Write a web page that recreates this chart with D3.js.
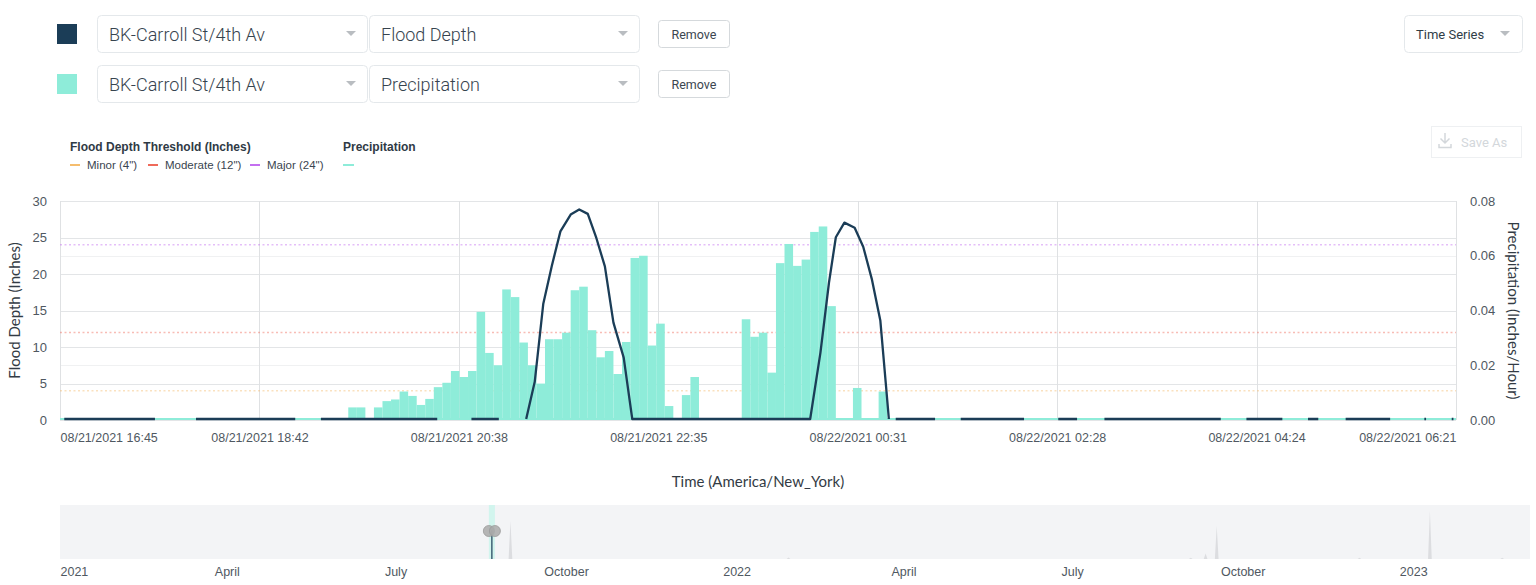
<!DOCTYPE html>
<html>
<head>
<meta charset="utf-8">
<script src="https://cdn.jsdelivr.net/npm/d3@7"></script>
<style>
  body { margin: 0; background: #fff; overflow: hidden; }
  svg { display: block; font-family: Lato, "Open Sans", sans-serif; }
</style>
</head>
<body>
<svg id="chart" width="1536" height="585"></svg>
<script>
// ---- data ----
const sensorName = 'BK-Carroll St/4th Av';
const seriesMetrics = ['Flood Depth', 'Precipitation'];
const seriesColors = ['#1b3d57', '#8eecd9'];

const thresholdLabels = ['Minor (4")', 'Moderate (12")', 'Major (24")'];
const thresholdValues = [4, 12, 24];
const thresholdColors = ['#f5bd6e', '#ef6a5a', '#c46ff0'];

// visible window (America/New_York)
const windowStart = '2021-08-21 16:45:30';
const windowEnd = '2021-08-22 06:21:30';

// flood depth readings, inches (null = no reading / gap in line)
const depthTimes = [
  '08-21 16:48', '08-21 17:41', null,
  '08-21 18:05', '08-21 19:03', null,
  '08-21 19:18', '08-21 20:26', null,
  '08-21 20:46', '08-21 21:02', null,
  '08-21 21:18', '08-21 21:23', '08-21 21:28', '08-21 21:33', '08-21 21:38', '08-21 21:44',
  '08-21 21:49', '08-21 21:54', '08-21 21:59', '08-21 22:04', '08-21 22:09', '08-21 22:15', '08-21 22:20',
  '08-22 00:04', '08-22 00:10', '08-22 00:15', '08-22 00:19', '08-22 00:24', '08-22 00:30',
  '08-22 00:35', '08-22 00:40', '08-22 00:45', '08-22 00:50', null,
  '08-22 00:54', '08-22 01:17', null,
  '08-22 01:32', '08-22 02:09', null,
  '08-22 02:29', '08-22 02:40', null,
  '08-22 02:56', '08-22 04:04', null,
  '08-22 04:19', '08-22 04:40', null,
  '08-22 04:55', '08-22 05:01', null,
  '08-22 05:17', '08-22 05:43', null,
  '08-22 06:03', '08-22 06:04', null,
  '08-22 06:19', '08-22 06:20'
];
const depthValues = [
  0, 0, null,
  0, 0, null,
  0, 0, null,
  0, 0, null,
  0, 5.1, 15.8, 21.0, 25.7, 28.0,
  28.7, 28.1, 24.8, 20.9, 13.2, 8.4, 0,
  0, 9.1, 18.7, 24.9, 26.9, 26.2,
  23.6, 19.2, 13.5, 0, null,
  0, 0, null,
  0, 0, null,
  0, 0, null,
  0, 0, null,
  0, 0, null,
  0, 0, null,
  0, 0, null,
  0, 0, null,
  0, 0
];

// precipitation, inches/hour, 5 minute bins starting at precipStart
const precipStart = '2021-08-21 19:34:00';
const precipBinMinutes = 5;
const precipValues = [
  0.0046, 0.0046, 0, 0.0046, 0.0069, 0.0075, 0.0104, 0.0088, 0.0055, 0.0077,
  0.0120, 0.0136, 0.0179, 0.0157, 0.0179, 0.0395, 0.0245, 0.0200, 0.0477, 0.0449,
  0.0283, 0.0200, 0.0133, 0.0295, 0.0295, 0.0319, 0.0474, 0.0487, 0.0328, 0.0229,
  0.0252, 0.0168, 0.0285, 0.0592, 0.0600, 0.0272, 0.0352, 0.0051, 0, 0.0091,
  0.0157, 0, 0, 0, 0, 0, 0.0368, 0.0304, 0.0319, 0.0173,
  0.0573, 0.0643, 0.0563, 0.0586, 0.0687, 0.0707, 0.0416, 0, 0, 0.0117,
  0, 0, 0.0104
];

const depthTicks = [0, 5, 10, 15, 20, 25, 30];
const precipTicks = [0, 0.02, 0.04, 0.06, 0.08];

// overview (navigator) peaks, inches
const overviewStart = '2021-01-01';
const overviewEnd = '2023-03-05';
const overviewDates = [
  '2021-01-01', '2021-08-31', '2021-09-01', '2021-09-02',
  '2022-01-28', '2022-01-29', '2022-01-30',
  '2022-09-02', '2022-09-03', '2022-09-04',
  '2022-09-10', '2022-09-11', '2022-09-12',
  '2022-09-16', '2022-09-17', '2022-09-18',
  '2022-12-02', '2022-12-03', '2022-12-04',
  '2023-01-09', '2023-01-10', '2023-01-11',
  '2023-02-17', '2023-02-18', '2023-02-19', '2023-03-05'
];
const overviewValues = [
  0, 0, 38, 0,
  0, 1.5, 0,
  0, 1.2, 0,
  0, 5.4, 0,
  0, 33, 0,
  0, 1.2, 0,
  0, 48, 0,
  0, 1.2, 0, 0
];
const overviewSelectedPeak = 28.7;

// ---- setup ----
const svg = d3.select('#chart');
const parseFull = d3.timeParse('%Y-%m-%d %H:%M:%S');
const parseShort = d3.timeParse('%Y-%m-%d %H:%M');
const parseDay = d3.timeParse('%Y-%m-%d');

const plot = { left: 60, right: 1456, top: 201, bottom: 420 };
const nav = { left: 60, right: 1530, top: 505, bottom: 559 };

const x = d3.scaleTime()
  .domain([parseFull(windowStart), parseFull(windowEnd)])
  .range([plot.left, plot.right]);
const yDepth = d3.scaleLinear().domain([0, 30]).range([plot.bottom, plot.top]);
const yPrecip = d3.scaleLinear().domain([0, 0.08]).range([plot.bottom, plot.top]);

let prevT = null;
const depthData = depthTimes.map((s, i) => {
  const t = s ? parseShort('2021-' + s) : prevT;
  prevT = t;
  return { t, v: depthValues[i] };
});

const p0 = parseFull(precipStart);
const precipData = precipValues.map((v, i) => ({
  t0: d3.timeMinute.offset(p0, i * precipBinMinutes),
  t1: d3.timeMinute.offset(p0, (i + 1) * precipBinMinutes),
  v
}));

// ---- header controls ----
const header = svg.append('g').attr('font-family', 'Roboto, sans-serif');

function caret(g, cx, cy) {
  g.append('path')
    .attr('d', `M${cx - 5},${cy - 2}L${cx + 5},${cy - 2}L${cx},${cy + 3}Z`)
    .attr('fill', '#b9bdc1');
}

seriesMetrics.forEach((metric, i) => {
  const row = header.append('g').attr('transform', `translate(0,${i * 50})`);
  row.append('rect')
    .attr('x', 57).attr('y', 24).attr('width', 20).attr('height', 20)
    .attr('fill', seriesColors[i]);

  [[97, sensorName], [369, metric]].forEach(([bx, label]) => {
    row.append('rect')
      .attr('x', bx + 0.5).attr('y', 15.5).attr('width', 270).attr('height', 37)
      .attr('rx', 4).attr('fill', '#fff').attr('stroke', '#e4e8eb');
    row.append('text')
      .attr('x', bx + 12).attr('y', 40.5)
      .attr('font-size', 18).attr('font-weight', 300).attr('fill', '#36434e')
      .text(label);
    caret(row, bx + 254, 33);
  });

  row.append('rect')
    .attr('x', 658.5).attr('y', 20.5).attr('width', 71).attr('height', 27)
    .attr('rx', 3).attr('fill', '#fff').attr('stroke', '#d5d9dc');
  row.append('text')
    .attr('x', 694).attr('y', 38.5).attr('text-anchor', 'middle')
    .attr('font-size', 12.5).attr('fill', '#3b4650')
    .text('Remove');
});

header.append('rect')
  .attr('x', 1404.5).attr('y', 15.5).attr('width', 118).attr('height', 37)
  .attr('rx', 4).attr('fill', '#fff').attr('stroke', '#e4e8eb');
header.append('text')
  .attr('x', 1416).attr('y', 38.5)
  .attr('font-size', 13).attr('fill', '#2f3d47')
  .text('Time Series');
caret(header, 1505, 33);

// save as (disabled look)
const save = header.append('g');
save.append('rect')
  .attr('x', 1431.5).attr('y', 126.5).attr('width', 90).attr('height', 31)
  .attr('fill', '#fff').attr('stroke', '#eef0f2');
save.append('path')
  .attr('d', 'M1445,133V143M1440.5,138.5L1445,143L1449.5,138.5M1439,144V147.5H1451V144')
  .attr('fill', 'none').attr('stroke', '#d3d7db').attr('stroke-width', 1.5);
save.append('text')
  .attr('x', 1461).attr('y', 146.5)
  .attr('font-size', 13).attr('fill', '#d3d7db')
  .text('Save As');

// ---- legend ----
const legend = svg.append('g').attr('font-family', '"Liberation Sans", Arial, sans-serif');
legend.append('text')
  .attr('x', 70).attr('y', 151)
  .attr('font-size', 12).attr('font-weight', 'bold').attr('fill', '#2f3a45')
  .text('Flood Depth Threshold (Inches)');

const legendItemX = [70, 148, 250];
thresholdLabels.forEach((label, i) => {
  legend.append('line')
    .attr('x1', legendItemX[i]).attr('x2', legendItemX[i] + 10)
    .attr('y1', 165).attr('y2', 165)
    .attr('stroke', thresholdColors[i]).attr('stroke-width', 2);
  legend.append('text')
    .attr('x', legendItemX[i] + 17).attr('y', 169)
    .attr('font-size', 11.5).attr('fill', '#3a4550')
    .text(label);
});

legend.append('text')
  .attr('x', 343).attr('y', 151)
  .attr('font-size', 12).attr('font-weight', 'bold').attr('fill', '#2f3a45')
  .text('Precipitation');
legend.append('line')
  .attr('x1', 343).attr('x2', 354).attr('y1', 165).attr('y2', 165)
  .attr('stroke', seriesColors[1]).attr('stroke-width', 2);

// ---- grid ----
const grid = svg.append('g');
const xTicks = d3.range(8).map((i) => new Date(
  +x.domain()[0] + (i * (x.domain()[1] - x.domain()[0])) / 7
));

grid.selectAll('.gy2')
  .data(precipTicks)
  .join('line')
  .attr('x1', plot.left).attr('x2', plot.right)
  .attr('y1', (d) => Math.round(yPrecip(d)) + 0.5)
  .attr('y2', (d) => Math.round(yPrecip(d)) + 0.5)
  .attr('stroke', '#f0f1f2');

grid.selectAll('.gy')
  .data(depthTicks)
  .join('line')
  .attr('x1', plot.left).attr('x2', plot.right)
  .attr('y1', (d) => Math.round(yDepth(d)) + 0.5)
  .attr('y2', (d) => Math.round(yDepth(d)) + 0.5)
  .attr('stroke', '#e3e5e7');

grid.selectAll('.gx')
  .data(xTicks)
  .join('line')
  .attr('x1', (d) => Math.round(x(d)) + 0.5)
  .attr('x2', (d) => Math.round(x(d)) + 0.5)
  .attr('y1', plot.top).attr('y2', plot.bottom)
  .attr('stroke', '#dfe1e3');

// threshold lines (under the bars)
svg.append('g')
  .selectAll('line')
  .data(thresholdValues)
  .join('line')
  .attr('x1', plot.left).attr('x2', plot.right)
  .attr('y1', (d) => yDepth(d)).attr('y2', (d) => yDepth(d))
  .attr('stroke', (d, i) => thresholdColors[i])
  .attr('stroke-opacity', 0.45)
  .attr('stroke-width', 1.5)
  .attr('stroke-dasharray', '2,2.5');

// ---- precipitation bars ----
svg.append('g')
  .selectAll('rect')
  .data(precipData.filter((d) => d.v > 0))
  .join('rect')
  .attr('x', (d) => x(d.t0))
  .attr('width', (d) => x(d.t1) - x(d.t0))
  .attr('y', (d) => yPrecip(d.v))
  .attr('height', (d) => yPrecip(0) - yPrecip(d.v))
  .attr('fill', seriesColors[1]);

// zero precipitation baseline
svg.append('rect')
  .attr('x', x.range()[0]).attr('width', x.range()[1] - x.range()[0])
  .attr('y', yPrecip(0) - 2).attr('height', 2)
  .attr('fill', seriesColors[1]);

// ---- flood depth line ----
const depthLine = d3.line()
  .defined((d) => d.v !== null)
  .x((d) => x(d.t))
  .y((d) => yDepth(d.v) - 1);

svg.append('path')
  .datum(depthData)
  .attr('fill', 'none')
  .attr('stroke', seriesColors[0])
  .attr('stroke-width', 2.3)
  .attr('stroke-linejoin', 'round')
  .attr('d', depthLine);

// ---- axes ----
const fmtTime = d3.timeFormat('%m/%d/%Y %H:%M');
const xAxis = svg.append('g')
  .attr('transform', `translate(0,${plot.bottom})`)
  .call(d3.axisBottom(x).tickValues(xTicks).tickFormat(fmtTime).tickSize(0).tickPadding(13));
xAxis.select('.domain').remove();
xAxis.selectAll('text')
  .attr('font-size', 12.5).attr('fill', '#4f5861')
  .attr('text-anchor', (d, i) => (i === 0 ? 'start' : i === xTicks.length - 1 ? 'end' : 'middle'));

const yAxisL = svg.append('g')
  .attr('transform', `translate(${plot.left},0)`)
  .call(d3.axisLeft(yDepth).tickValues(depthTicks).tickSize(0).tickPadding(13));
yAxisL.select('.domain').remove();
yAxisL.selectAll('text').attr('font-size', 13).attr('fill', '#4f5861');

const yAxisR = svg.append('g')
  .attr('transform', `translate(${plot.right},0)`)
  .call(d3.axisRight(yPrecip).tickValues(precipTicks).tickFormat(d3.format('.2f')).tickSize(0).tickPadding(14));
yAxisR.select('.domain').remove();
yAxisR.selectAll('text').attr('font-size', 13).attr('fill', '#4f5861');

svg.append('text')
  .attr('transform', `translate(20,${(plot.top + plot.bottom) / 2}) rotate(-90)`)
  .attr('text-anchor', 'middle')
  .attr('font-size', 15).attr('fill', '#333b44')
  .text('Flood Depth (Inches)');

svg.append('text')
  .attr('transform', `translate(1508,${(plot.top + plot.bottom) / 2}) rotate(90)`)
  .attr('text-anchor', 'middle')
  .attr('font-size', 15).attr('fill', '#333b44')
  .text('Precipitation (Inches/Hour)');

svg.append('text')
  .attr('x', (plot.left + plot.right) / 2).attr('y', 487)
  .attr('text-anchor', 'middle')
  .attr('font-size', 15).attr('fill', '#333b44')
  .text('Time (America/New_York)');

// ---- navigator ----
const xNav = d3.scaleTime()
  .domain([parseDay(overviewStart), parseDay(overviewEnd)])
  .range([nav.left, nav.right]);
const yNav = d3.scaleLinear().domain([0, 54]).range([nav.bottom, nav.top]);

svg.append('rect')
  .attr('x', nav.left).attr('y', nav.top)
  .attr('width', nav.right - nav.left).attr('height', nav.bottom - nav.top)
  .attr('fill', '#f3f4f6');

const overviewData = overviewDates.map((d, i) => ({ t: parseDay(d), v: overviewValues[i] }));
svg.append('path')
  .datum(overviewData)
  .attr('fill', '#dcdde0')
  .attr('d', d3.area().x((d) => xNav(d.t)).y0(yNav(0)).y1((d) => yNav(d.v)));

const sx0 = xNav(x.domain()[0]);
const sx1 = xNav(x.domain()[1]);
svg.append('rect')
  .attr('x', sx0 - 2.5).attr('width', sx1 - sx0 + 5)
  .attr('y', nav.top).attr('height', nav.bottom - nav.top)
  .attr('fill', '#d2f5ee');
svg.append('line')
  .attr('x1', (sx0 + sx1) / 2).attr('x2', (sx0 + sx1) / 2)
  .attr('y1', yNav(0)).attr('y2', yNav(overviewSelectedPeak))
  .attr('stroke', seriesColors[0]).attr('stroke-width', 1.2);

[sx0 - 2.5, sx1 + 2.5].forEach((cx) => {
  svg.append('circle')
    .attr('cx', cx).attr('cy', 531).attr('r', 5.5)
    .attr('fill', '#a9a9a9').attr('fill-opacity', 0.85)
    .attr('stroke', '#9a9a9a').attr('stroke-width', 0.8);
});

const navFmt = (d) => (d.getMonth() === 0 ? d3.timeFormat('%Y')(d) : d3.timeFormat('%B')(d));
const navTicks = xNav.ticks(d3.timeMonth.every(3));
const navAxis = svg.append('g')
  .attr('transform', `translate(0,${nav.bottom})`)
  .call(d3.axisBottom(xNav).tickValues(navTicks).tickFormat(navFmt).tickSize(0).tickPadding(8));
navAxis.select('.domain').remove();
navAxis.selectAll('text')
  .attr('font-size', 12.5).attr('fill', '#4f5861')
  .attr('text-anchor', (d, i) => (i === 0 ? 'start' : 'middle'));
</script>
</body>
</html>
